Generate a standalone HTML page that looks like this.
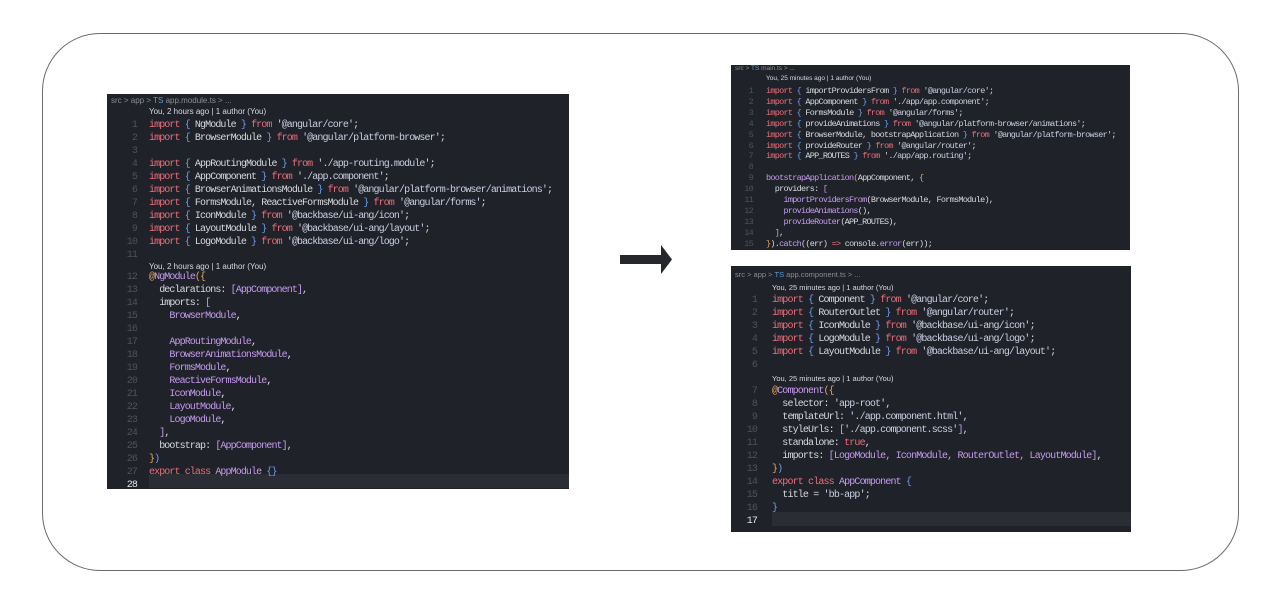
<!DOCTYPE html>
<html><head><meta charset="utf-8">
<style>
body{margin:0;width:1280px;height:604px;background:#fff;position:relative;overflow:hidden;font-family:"Liberation Mono",monospace}
.frame{position:absolute;left:42px;top:33px;width:1197px;height:538px;border:1px solid #6b6b6b;border-radius:58px;box-sizing:border-box}
.panel{position:absolute;background:#202229;overflow:hidden}
.hdr{position:absolute;font-family:"Liberation Sans",sans-serif;color:#8a8d96;white-space:pre}
.ann{font-family:"Liberation Sans",sans-serif;color:#7d808a;white-space:pre}
.row{position:relative;white-space:pre;color:#d6d9e0}
.n{position:absolute;text-align:right;color:#4f525c}
.k{color:#ec6f7b}.b{color:#6a9ef0}.s{color:#c9cfe2}.p{color:#c59cf0}.o{color:#e0a85e}.w{color:#e2e4ea}
.hl{position:absolute;background:#2b2d35}
</style></head><body>
<div class="frame"></div>

<!-- left panel -->
<div class="panel" style="left:107px;top:94px;width:462px;height:395px">
 <div class="hdr" style="left:4px;top:1px;font-size:8px;line-height:11px">src &gt; app &gt; <span style="color:#5c9ed6">TS</span> app.module.ts &gt; ...</div>
 <div class="hl" style="left:42px;top:380px;width:420px;height:14px"></div>
 <div style="position:absolute;left:0;top:12px;width:462px;font-size:10px;letter-spacing:-0.9px">
  <div class="row ann" style="height:13px;line-height:11px;padding-left:42px;font-size:8px;letter-spacing:0">You, 2 hours ago | 1 author (You)</div>
  <div style="line-height:13px">
  <div class="row"><span class="n" style="left:0;width:30px">1</span><span style="padding-left:42px"><span class="k">import</span> <span class="b">{</span> NgModule <span class="b">}</span> <span class="k">from</span> <span class="s">'@angular/core'</span>;</span></div>
  <div class="row"><span class="n" style="left:0;width:30px">2</span><span style="padding-left:42px"><span class="k">import</span> <span class="b">{</span> BrowserModule <span class="b">}</span> <span class="k">from</span> <span class="s">'@angular/platform-browser'</span>;</span></div>
  <div class="row"><span class="n" style="left:0;width:30px">3</span> </div>
  <div class="row"><span class="n" style="left:0;width:30px">4</span><span style="padding-left:42px"><span class="k">import</span> <span class="b">{</span> AppRoutingModule <span class="b">}</span> <span class="k">from</span> <span class="s">'./app-routing.module'</span>;</span></div>
  <div class="row"><span class="n" style="left:0;width:30px">5</span><span style="padding-left:42px"><span class="k">import</span> <span class="b">{</span> AppComponent <span class="b">}</span> <span class="k">from</span> <span class="s">'./app.component'</span>;</span></div>
  <div class="row"><span class="n" style="left:0;width:30px">6</span><span style="padding-left:42px"><span class="k">import</span> <span class="b">{</span> BrowserAnimationsModule <span class="b">}</span> <span class="k">from</span> <span class="s">'@angular/platform-browser/animations'</span>;</span></div>
  <div class="row"><span class="n" style="left:0;width:30px">7</span><span style="padding-left:42px"><span class="k">import</span> <span class="b">{</span> FormsModule, ReactiveFormsModule <span class="b">}</span> <span class="k">from</span> <span class="s">'@angular/forms'</span>;</span></div>
  <div class="row"><span class="n" style="left:0;width:30px">8</span><span style="padding-left:42px"><span class="k">import</span> <span class="b">{</span> IconModule <span class="b">}</span> <span class="k">from</span> <span class="s">'@backbase/ui-ang/icon'</span>;</span></div>
  <div class="row"><span class="n" style="left:0;width:30px">9</span><span style="padding-left:42px"><span class="k">import</span> <span class="b">{</span> LayoutModule <span class="b">}</span> <span class="k">from</span> <span class="s">'@backbase/ui-ang/layout'</span>;</span></div>
  <div class="row"><span class="n" style="left:0;width:30px">10</span><span style="padding-left:42px"><span class="k">import</span> <span class="b">{</span> LogoModule <span class="b">}</span> <span class="k">from</span> <span class="s">'@backbase/ui-ang/logo'</span>;</span></div>
  <div class="row"><span class="n" style="left:0;width:30px">11</span> </div>
  </div>
  <div class="row ann" style="height:9px;line-height:9px;padding-left:42px;font-size:8px;letter-spacing:0">You, 2 hours ago | 1 author (You)</div>
  <div style="line-height:13px">
  <div class="row"><span class="n" style="left:0;width:30px">12</span><span style="padding-left:42px"><span class="o">@</span><span class="p">NgModule</span><span class="o">({</span></span></div>
  <div class="row"><span class="n" style="left:0;width:30px">13</span><span style="padding-left:42px">  declarations: <span class="p">[AppComponent]</span>,</span></div>
  <div class="row"><span class="n" style="left:0;width:30px">14</span><span style="padding-left:42px">  imports: <span class="p">[</span></span></div>
  <div class="row"><span class="n" style="left:0;width:30px">15</span><span style="padding-left:42px" class="p">    BrowserModule<span class="w">,</span></span></div>
  <div class="row"><span class="n" style="left:0;width:30px">16</span> </div>
  <div class="row"><span class="n" style="left:0;width:30px">17</span><span style="padding-left:42px" class="p">    AppRoutingModule<span class="w">,</span></span></div>
  <div class="row"><span class="n" style="left:0;width:30px">18</span><span style="padding-left:42px" class="p">    BrowserAnimationsModule<span class="w">,</span></span></div>
  <div class="row"><span class="n" style="left:0;width:30px">19</span><span style="padding-left:42px" class="p">    FormsModule<span class="w">,</span></span></div>
  <div class="row"><span class="n" style="left:0;width:30px">20</span><span style="padding-left:42px" class="p">    ReactiveFormsModule<span class="w">,</span></span></div>
  <div class="row"><span class="n" style="left:0;width:30px">21</span><span style="padding-left:42px" class="p">    IconModule<span class="w">,</span></span></div>
  <div class="row"><span class="n" style="left:0;width:30px">22</span><span style="padding-left:42px" class="p">    LayoutModule<span class="w">,</span></span></div>
  <div class="row"><span class="n" style="left:0;width:30px">23</span><span style="padding-left:42px" class="p">    LogoModule<span class="w">,</span></span></div>
  <div class="row"><span class="n" style="left:0;width:30px">24</span><span style="padding-left:42px"><span class="p">  ]</span>,</span></div>
  <div class="row"><span class="n" style="left:0;width:30px">25</span><span style="padding-left:42px">  bootstrap: <span class="p">[AppComponent]</span>,</span></div>
  <div class="row"><span class="n" style="left:0;width:30px">26</span><span style="padding-left:42px"><span class="o">}</span><span class="b">)</span></span></div>
  <div class="row"><span class="n" style="left:0;width:30px">27</span><span style="padding-left:42px"><span class="k">export class</span> <span class="p">AppModule</span> <span class="b">{}</span></span></div>
  <div class="row"><span class="n" style="left:0;width:30px;color:#e2e4ea">28</span> </div>
  </div>
 </div>
</div>

<!-- arrow -->
<svg style="position:absolute;left:0;top:0" width="1280" height="604">
 <polygon points="620,255 661,255 661,245 672,259.5 661,274 661,264 620,264" fill="#25272c"/>
</svg>

<!-- top-right panel -->
<div class="panel" style="left:731px;top:65px;width:399px;height:185px">
 <div class="hdr" style="left:4px;top:0px;font-size:6.5px;line-height:8px">src &gt; <span style="color:#5c9ed6">TS</span> main.ts &gt; ...</div>
 <div style="position:absolute;left:0;top:9px;width:399px;font-size:8.5px;letter-spacing:-0.73px">
  <div class="row ann" style="height:12px;line-height:10px;padding-left:35px;font-size:6.5px;letter-spacing:0">You, 25 minutes ago | 1 author (You)</div>
  <div style="line-height:10.9px">
  <div class="row"><span class="n" style="left:0;width:22px">1</span><span style="padding-left:35px"><span class="k">import</span> <span class="b">{</span> importProvidersFrom <span class="b">}</span> <span class="k">from</span> <span class="s">'@angular/core'</span>;</span></div>
  <div class="row"><span class="n" style="left:0;width:22px">2</span><span style="padding-left:35px"><span class="k">import</span> <span class="b">{</span> AppComponent <span class="b">}</span> <span class="k">from</span> <span class="s">'./app/app.component'</span>;</span></div>
  <div class="row"><span class="n" style="left:0;width:22px">3</span><span style="padding-left:35px"><span class="k">import</span> <span class="b">{</span> FormsModule <span class="b">}</span> <span class="k">from</span> <span class="s">'@angular/forms'</span>;</span></div>
  <div class="row"><span class="n" style="left:0;width:22px">4</span><span style="padding-left:35px"><span class="k">import</span> <span class="b">{</span> provideAnimations <span class="b">}</span> <span class="k">from</span> <span class="s">'@angular/platform-browser/animations'</span>;</span></div>
  <div class="row"><span class="n" style="left:0;width:22px">5</span><span style="padding-left:35px"><span class="k">import</span> <span class="b">{</span> BrowserModule, bootstrapApplication <span class="b">}</span> <span class="k">from</span> <span class="s">'@angular/platform-browser'</span>;</span></div>
  <div class="row"><span class="n" style="left:0;width:22px">6</span><span style="padding-left:35px"><span class="k">import</span> <span class="b">{</span> provideRouter <span class="b">}</span> <span class="k">from</span> <span class="s">'@angular/router'</span>;</span></div>
  <div class="row"><span class="n" style="left:0;width:22px">7</span><span style="padding-left:35px"><span class="k">import</span> <span class="b">{</span> APP_ROUTES <span class="b">}</span> <span class="k">from</span> <span class="s">'./app/app.routing'</span>;</span></div>
  <div class="row"><span class="n" style="left:0;width:22px">8</span> </div>
  <div class="row"><span class="n" style="left:0;width:22px">9</span><span style="padding-left:35px"><span class="p">bootstrapApplication</span><span class="o">(</span>AppComponent, <span class="o">{</span></span></div>
  <div class="row"><span class="n" style="left:0;width:22px">10</span><span style="padding-left:35px">  providers: <span class="p">[</span></span></div>
  <div class="row"><span class="n" style="left:0;width:22px">11</span><span style="padding-left:35px">    <span class="p">importProvidersFrom</span>(BrowserModule, FormsModule),</span></div>
  <div class="row"><span class="n" style="left:0;width:22px">12</span><span style="padding-left:35px">    <span class="p">provideAnimations</span>(),</span></div>
  <div class="row"><span class="n" style="left:0;width:22px">13</span><span style="padding-left:35px">    <span class="p">provideRouter</span>(APP_ROUTES),</span></div>
  <div class="row"><span class="n" style="left:0;width:22px">14</span><span style="padding-left:35px"><span class="p">  ]</span>,</span></div>
  <div class="row"><span class="n" style="left:0;width:22px">15</span><span style="padding-left:35px"><span class="o">}</span>).<span class="p">catch</span>((err) <span class="k">=&gt;</span> console.<span class="p">error</span>(err));</span></div>
  </div>
 </div>
</div>

<!-- bottom-right panel -->
<div class="panel" style="left:731px;top:266px;width:400px;height:266px">
 <div class="hdr" style="left:4px;top:4px;font-size:7.5px;line-height:10px">src &gt; app &gt; <span style="color:#5c9ed6">TS</span> app.component.ts &gt; ...</div>
 <div class="hl" style="left:41px;top:246px;width:359px;height:14px"></div>
 <div style="position:absolute;left:0;top:16px;width:400px;font-size:10px;letter-spacing:-0.85px">
  <div class="row ann" style="height:12px;line-height:11px;padding-left:41px;font-size:7.5px;letter-spacing:0">You, 25 minutes ago | 1 author (You)</div>
  <div style="line-height:13px">
  <div class="row"><span class="n" style="left:0;width:26px">1</span><span style="padding-left:41px"><span class="k">import</span> <span class="b">{</span> Component <span class="b">}</span> <span class="k">from</span> <span class="s">'@angular/core'</span>;</span></div>
  <div class="row"><span class="n" style="left:0;width:26px">2</span><span style="padding-left:41px"><span class="k">import</span> <span class="b">{</span> RouterOutlet <span class="b">}</span> <span class="k">from</span> <span class="s">'@angular/router'</span>;</span></div>
  <div class="row"><span class="n" style="left:0;width:26px">3</span><span style="padding-left:41px"><span class="k">import</span> <span class="b">{</span> IconModule <span class="b">}</span> <span class="k">from</span> <span class="s">'@backbase/ui-ang/icon'</span>;</span></div>
  <div class="row"><span class="n" style="left:0;width:26px">4</span><span style="padding-left:41px"><span class="k">import</span> <span class="b">{</span> LogoModule <span class="b">}</span> <span class="k">from</span> <span class="s">'@backbase/ui-ang/logo'</span>;</span></div>
  <div class="row"><span class="n" style="left:0;width:26px">5</span><span style="padding-left:41px"><span class="k">import</span> <span class="b">{</span> LayoutModule <span class="b">}</span> <span class="k">from</span> <span class="s">'@backbase/ui-ang/layout'</span>;</span></div>
  <div class="row"><span class="n" style="left:0;width:26px">6</span> </div>
  <div class="row ann" style="padding-left:41px;font-size:7.5px;letter-spacing:0">You, 25 minutes ago | 1 author (You)</div>
  <div class="row"><span class="n" style="left:0;width:26px">7</span><span style="padding-left:41px"><span class="o">@</span><span class="p">Component</span><span class="o">({</span></span></div>
  <div class="row"><span class="n" style="left:0;width:26px">8</span><span style="padding-left:41px">  selector: <span class="s">'app-root'</span>,</span></div>
  <div class="row"><span class="n" style="left:0;width:26px">9</span><span style="padding-left:41px">  templateUrl: <span class="s">'./app.component.html'</span>,</span></div>
  <div class="row"><span class="n" style="left:0;width:26px">10</span><span style="padding-left:41px">  styleUrls: <span class="p">[</span><span class="s">'./app.component.scss'</span><span class="p">]</span>,</span></div>
  <div class="row"><span class="n" style="left:0;width:26px">11</span><span style="padding-left:41px">  standalone: <span class="k">true</span>,</span></div>
  <div class="row"><span class="n" style="left:0;width:26px">12</span><span style="padding-left:41px">  imports: <span class="p">[LogoModule, IconModule, RouterOutlet, LayoutModule]</span>,</span></div>
  <div class="row"><span class="n" style="left:0;width:26px">13</span><span style="padding-left:41px"><span class="o">}</span><span class="b">)</span></span></div>
  <div class="row"><span class="n" style="left:0;width:26px">14</span><span style="padding-left:41px"><span class="k">export class</span> <span class="p">AppComponent</span> <span class="b">{</span></span></div>
  <div class="row"><span class="n" style="left:0;width:26px">15</span><span style="padding-left:41px">  title = <span class="s">'bb-app'</span>;</span></div>
  <div class="row"><span class="n" style="left:0;width:26px">16</span><span style="padding-left:41px"><span class="b">}</span></span></div>
  <div class="row"><span class="n" style="left:0;width:26px;color:#e2e4ea">17</span> </div>
  </div>
 </div>
</div>
</body></html>
